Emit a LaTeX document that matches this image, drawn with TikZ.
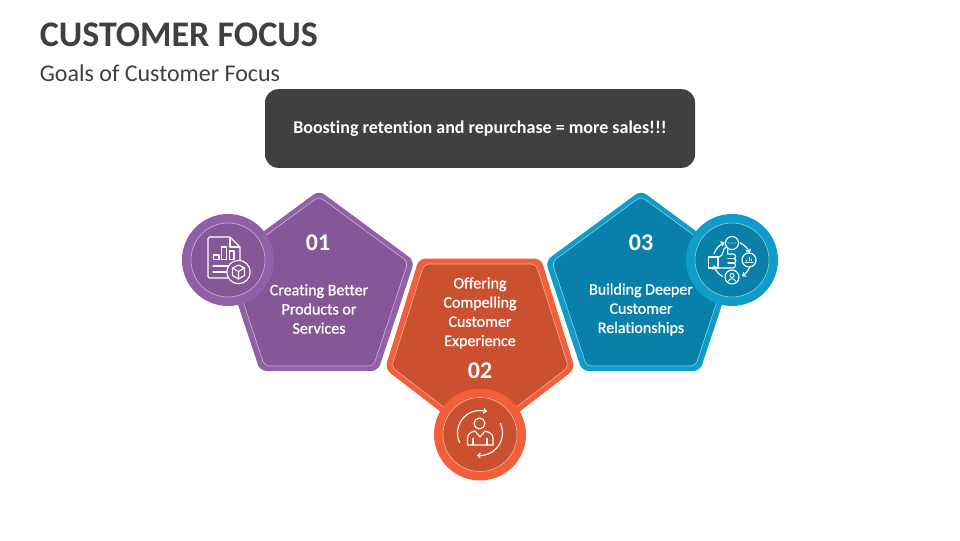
\documentclass[tikz,border=0pt]{standalone}
\usepackage{fontspec}
\setmainfont[Ligatures=CommonOff]{Carlito}
\newfontfamily\semifont[Ligatures=CommonOff,FakeBold=1]{Carlito}
\usetikzlibrary{arrows.meta}
\definecolor{ink}{HTML}{404040}
\definecolor{purpleEdge}{HTML}{9160A9}
\definecolor{purpleFill}{HTML}{865797}
\definecolor{orangeEdge}{HTML}{F1603A}
\definecolor{orangeFill}{HTML}{CB5030}
\definecolor{blueEdge}{HTML}{0E9CCA}
\definecolor{blueFill}{HTML}{0880AA}
\tikzset{
  x=.75pt,y=-.75pt,
  pentaOuter/.style={line width=0pt,rounded corners=5pt},
  pentaInner/.style={draw=white,draw opacity=.55,line width=.45pt,rounded corners=3.5pt},
  outerDisc/.style={circle,minimum size=69pt,inner sep=0pt},
  innerDisc/.style={circle,minimum size=55.5pt,inner sep=0pt,draw=white,draw opacity=.55,line width=.45pt},
  bodyText/.style={text=white,font=\semifont\fontsize{12pt}{14.4pt}\selectfont,align=center,inner sep=0pt},
  numText/.style={text=white,font=\fontsize{18pt}{20pt}\selectfont\bfseries,inner sep=0pt},
  iconLine/.style={draw=white,line width=.85pt,line join=round,line cap=round},
  iconArrow/.style={iconLine,-{Straight Barb[length=2pt,width=3.6pt]}},
}
\newcommand{\iconarc}[5]{% cx cy r from to
  \draw[iconArrow] plot[smooth,domain=#4:#5,samples=12] ({#1+#3*cos(\x)},{#2-#3*sin(\x)});}
\begin{document}
\begin{tikzpicture}
\useasboundingbox (0,0) rectangle (960,540);
% heading
\node[anchor=west,inner sep=0pt,text=ink,font=\fontsize{27pt}{30pt}\selectfont\bfseries] (title) at (39.5,35) {CUSTOMER FOCUS};
\node[anchor=west,inner sep=0pt,text=ink,font=\fontsize{18pt}{20pt}\selectfont] (subtitle) at (39.5,73.5) {Goals of Customer Focus};
\node[fill=ink,rounded corners=10pt,minimum width=322.5pt,minimum height=59pt,inner sep=0pt,text=white,font=\fontsize{13.5pt}{15pt}\selectfont\bfseries] (banner) at (480,128.5) {\raisebox{-1.5pt}{Boosting retention and repurchase = more sales!!!}};
% pentagon 01
\fill[purpleEdge,pentaOuter] (319,190.5) -- (414.5,261) -- (378,371) -- (260,371) -- (223.5,261) -- cycle;
\path[fill=purpleFill,pentaInner] (319,196.5) -- (408,262) -- (373.5,366) -- (264.5,366) -- (230,262) -- cycle;
% pentagon 03
\fill[blueEdge,pentaOuter] (641,190.5) -- (736.5,261) -- (700,371) -- (582,371) -- (545.5,261) -- cycle;
\path[fill=blueFill,pentaInner] (641,196.5) -- (730,262) -- (695.5,366) -- (586.5,366) -- (552,262) -- cycle;
% pentagon 02
\fill[orangeEdge,pentaOuter] (419,258.5) -- (541,258.5) -- (575,369) -- (480,442) -- (385,369) -- cycle;
\path[fill=orangeFill,pentaInner] (424,264) -- (536,264) -- (568.5,367) -- (480,435) -- (391.5,367) -- cycle;
% discs
\node[outerDisc,fill=purpleEdge] (discA) at (228,260) {};
\node[innerDisc,fill=purpleFill] (coreA) at (228,260) {};
\node[outerDisc,fill=orangeEdge] (discB) at (480,434.5) {};
\node[innerDisc,fill=orangeFill] (coreB) at (480,434.5) {};
\node[outerDisc,fill=blueEdge] (discC) at (732,260) {};
\node[innerDisc,fill=blueFill] (coreC) at (732,260) {};
% texts
\node[numText] (numA) at (318,242.5) {01};
\node[bodyText] (textA) at (319,309) {Creating Better\\Products or\\Services};
\node[numText] (numB) at (480,370.5) {02};
\node[bodyText] (textB) at (480,313) {Offering\\Compelling\\Customer\\Experience};
\node[numText] (numC) at (641,242.5) {03};
\node[bodyText] (textC) at (641,309.5) {Building Deeper\\Customer\\Relationships};
% icon 01: document with chart and box
\draw[iconLine,rounded corners=1pt] (228,278) -- (208,278) -- (208,237) -- (230,237) -- (240,247) -- (240,260);
\draw[iconLine] (230,237) -- (230,247) -- (240,247);
\draw[iconLine] (213.5,255) rectangle (219,259.5);
\draw[iconLine] (221.5,247) rectangle (226.5,259.5);
\draw[iconLine] (229.5,251) rectangle (234,259.5);
\draw[iconLine] (213,266) -- (229,266);
\draw[iconLine] (213,272) -- (226,272);
\node[circle,draw=white,line width=.85pt,fill=purpleFill,minimum size=17.5pt,inner sep=0pt] (boxRing) at (238.5,272) {};
\draw[iconLine] (238.5,265) -- (244.5,268) -- (244.5,275.5) -- (238.5,279) -- (232.5,275.5) -- (232.5,268) -- cycle;
\draw[iconLine] (232.5,268) -- (238.5,271.5) -- (244.5,268) (238.5,271.5) -- (238.5,279);
% icon 02: person in cycle
\iconarc{480}{433}{22.5}{205}{72}
\iconarc{480}{433}{22.5}{25}{-98}
\node[circle,draw=white,line width=.85pt,minimum size=8.2pt,inner sep=0pt] (headB) at (479.5,423.5) {};
\draw[iconLine] (467.5,445) -- (467.5,438) .. controls (467.5,434) and (471,432) .. (475,431) -- (480,437) -- (485,431) .. controls (489,432) and (493,434) .. (493,438) -- (493,445) -- cycle;
\draw[iconLine] (473,438.5) -- (473,445) (487,438.5) -- (487,445);
% icon 03: thumb and cycle
\iconarc{732}{260}{19}{160}{113}
\iconarc{732}{260}{19}{65}{22}
\iconarc{732}{260}{19}{-18}{-58}
\iconarc{732}{260}{19}{-120}{-163}
\draw[iconLine] (708.5,257) rectangle (718,268);
\draw[iconLine] (718,257.5) -- (722,255) -- (724,249) -- (726,247) -- (728,248) -- (727.5,254) -- (733,254) .. controls (736,254) and (736,258) .. (734.5,258.5) .. controls (736.5,259) and (736.5,262.5) .. (734.5,263) .. controls (736,264) and (735.5,268) .. (733,268) -- (718,268);
\draw[iconLine] (728,258.5) -- (734.5,258.5) (728,263) -- (734.5,263);
\node[circle,draw=white,line width=.85pt,fill=blueFill,minimum size=9.8pt,inner sep=0pt] (speech) at (732,243) {};
\fill[white] (729,243) circle (.7) (732,243) circle (.7) (735,243) circle (.7);
\node[circle,draw=white,line width=.85pt,minimum size=10.5pt,inner sep=0pt] (chartRing) at (749,260) {};
\draw[iconLine,line width=.7pt] (745,262.5) -- (753,262.5) (746.5,261) -- (746.5,260) (749,261) -- (749,257.5) (751.5,261) -- (751.5,259.5);
\node[circle,draw=white,line width=.85pt,fill=blueFill,minimum size=10.5pt,inner sep=0pt] (userRing) at (732,277) {};
\node[circle,draw=white,line width=.7pt,minimum size=3pt,inner sep=0pt] (userHead) at (732,275.5) {};
\draw[iconLine,line width=.7pt] (728.5,281) .. controls (729,278) and (735,278) .. (735.5,281);
\end{tikzpicture}
\end{document}
